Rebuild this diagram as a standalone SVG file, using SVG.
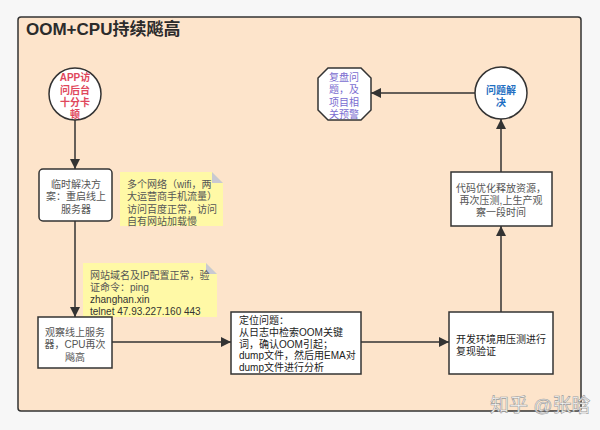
<svg xmlns="http://www.w3.org/2000/svg" width="600" height="430" viewBox="0 0 600 430">
<style>
text{font-family:"Liberation Sans","Noto Sans CJK SC",sans-serif;font-size:10px;}
.box{fill:#ffffff;stroke:#333333;stroke-width:1.5;}
.note{fill:#fff9a6;}
.fold{fill:#c9c9d2;}
.conn line{stroke:#333333;stroke-width:1.5;fill:none;}
.g{fill:#555555;}
.d{fill:#222222;}
.c{text-anchor:middle;}
</style>
<defs>
<marker id="arr" viewBox="0 0 10 10" refX="10" refY="5" markerWidth="10" markerHeight="10" markerUnits="userSpaceOnUse" orient="auto">
<path d="M0,0 L10,5 L0,10 z" fill="#333333"/>
</marker>
</defs>
<rect x="0" y="0" width="600" height="430" fill="#f7f7f7"/>
<g id="container">
<rect x="18" y="17" width="563" height="394" rx="3" fill="#fde4cb" stroke="#333333" stroke-width="1.5"/>
<text x="26" y="35" style="font-size:17px;font-weight:bold;" fill="#2b2b2b">OOM+CPU持续飚高</text>
</g>
<g class="conn" id="connectors">
<line x1="75" y1="120" x2="75" y2="169" marker-end="url(#arr)"/>
<line x1="75" y1="221" x2="75" y2="317" marker-end="url(#arr)"/>
<line x1="112" y1="342" x2="231" y2="342" marker-end="url(#arr)"/>
<line x1="361" y1="342" x2="449" y2="342" marker-end="url(#arr)"/>
<line x1="501" y1="312" x2="501" y2="226" marker-end="url(#arr)"/>
<line x1="501" y1="172" x2="501" y2="119" marker-end="url(#arr)"/>
<line x1="475" y1="93" x2="371" y2="93" marker-end="url(#arr)"/>
</g>
<g id="start">
<circle cx="75" cy="94" r="26" class="box"/>
<text class="c" x="75" y="81" fill="#e0475c" font-weight="bold">APP访</text>
<text class="c" x="75" y="94" fill="#e0475c" font-weight="bold">问后台</text>
<text class="c" x="75" y="106" fill="#e0475c" font-weight="bold">十分卡</text>
<text class="c" x="75" y="118" fill="#e0475c" font-weight="bold">顿</text>
</g>
<g id="temp-fix">
<rect x="39" y="169" width="73" height="52" rx="4" class="box"/>
<text class="c g" x="76" y="188">临时解决方</text>
<text class="c g" x="76" y="200">案：重启线上</text>
<text class="c g" x="76" y="213">服务器</text>
</g>
<g id="note1">
<path class="note" d="M120,172 H212 L223,183 V226 H120 Z"/>
<path class="fold" d="M212,172 L223,183 L212,183 Z"/>
<text class="g" x="127" y="188">多个网络（wifi，两</text>
<text class="g" x="127" y="200">大运营商手机流量）</text>
<text class="g" x="127" y="213">访问百度正常，访问</text>
<text class="g" x="127" y="225">自有网站加载慢</text>
</g>
<g id="note2">
<path class="note" d="M83,263 H206 L217,274 V317 H83 Z"/>
<path class="fold" d="M206,263 L217,274 L206,274 Z"/>
<text class="g" x="90" y="279">网站域名及IP配置正常，验</text>
<text class="g" x="90" y="291">证命令：ping</text>
<text x="90" y="303" fill="#333333">zhanghan.xin</text>
<text x="90" y="315" fill="#333333">telnet 47.93.227.160 443</text>
</g>
<g id="observe">
<rect x="38" y="317" width="74" height="51" class="box"/>
<text class="c g" x="75" y="336">观察线上服务</text>
<text class="c g" x="75" y="348">器，CPU再次</text>
<text class="c g" x="75" y="361">飚高</text>
</g>
<g id="locate">
<rect x="231" y="312" width="130" height="62" class="box"/>
<text class="d" x="239" y="324">定位问题：</text>
<text class="d" x="239" y="336">从日志中检索OOM关键</text>
<text class="d" x="239" y="347.5">词，确认OOM引起；</text>
<text class="d" x="239" y="359">dump文件，然后用EMA对</text>
<text class="d" x="239" y="370.5">dump文件进行分析</text>
</g>
<g id="reproduce">
<rect x="449" y="312" width="104" height="62" class="box"/>
<text class="d" x="456" y="343">开发环境用压测进行</text>
<text class="d" x="456" y="355">复现验证</text>
</g>
<g id="optimize">
<rect x="451" y="172" width="101" height="54" class="box"/>
<text class="c g" x="501" y="192">代码优化释放资源，</text>
<text class="c g" x="501" y="204">再次压测,上生产观</text>
<text class="c g" x="501" y="216">察一段时间</text>
</g>
<g id="solved">
<circle cx="501" cy="93" r="26" class="box"/>
<text class="c" x="501" y="94" fill="#1f6fc2" font-weight="bold">问题解</text>
<text class="c" x="501" y="106" fill="#1f6fc2" font-weight="bold">决</text>
</g>
<g id="review">
<polygon class="box" points="328,68 361,68 371,78 371,110 361,120 328,120 318,110 318,78"/>
<text class="c" x="344" y="81" fill="#7a6cd0">复盘问</text>
<text class="c" x="344" y="93" fill="#7a6cd0">题，及</text>
<text class="c" x="344" y="106" fill="#7a6cd0">项目相</text>
<text class="c" x="344" y="118" fill="#7a6cd0">关预警</text>
</g>
<text x="490" y="412" style="font-size:19px;" fill="#ffffff" stroke="#9a9a9a" stroke-width="0.6">知乎 @张晗</text>
</svg>
